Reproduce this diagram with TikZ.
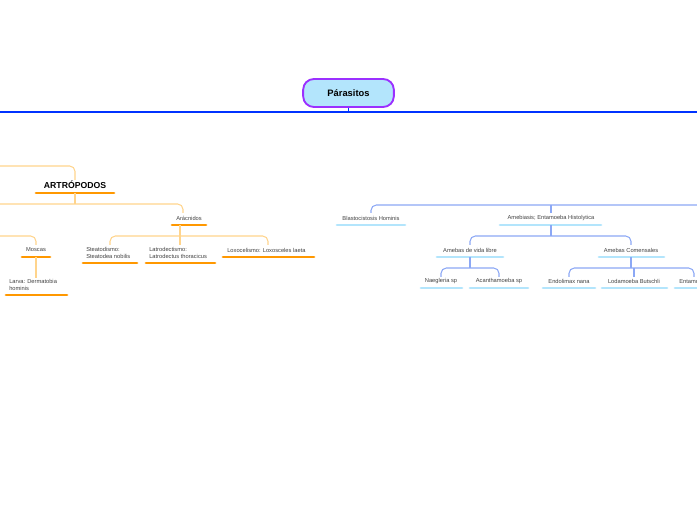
\documentclass[tikz,border=0pt]{standalone}
\usepackage{fontspec}
\setmainfont{Liberation Sans}
\begin{document}
\begin{tikzpicture}[x=0.75pt,y=-0.75pt,
  lbl/.style={font=\fontsize{4.3}{5.2}\selectfont,text=black!75,inner sep=0,align=left},
  oc/.style={draw=ocol,line width=0.8pt,rounded corners=4pt},
  bc/.style={draw=bcol,line width=0.8pt,rounded corners=4pt},
  ou/.style={draw=ucol,line width=2.2pt,line cap=round},
  bu/.style={draw=rootfill,line width=2.2pt,line cap=round}]
\definecolor{rootfill}{HTML}{B3E5FC}
\definecolor{rootdraw}{HTML}{9B30FF}
\definecolor{ocol}{HTML}{FFD48C}
\definecolor{ucol}{HTML}{FF9800}
\definecolor{bcol}{HTML}{8CA8F5}
\useasboundingbox (0,0) rectangle (697,520);
\clip (0,0) rectangle (697,520);
\node[draw=rootdraw,fill=rootfill,line width=1.4pt,rounded corners=8pt,minimum width=68pt,minimum height=21pt,font=\fontsize{7}{8}\selectfont\bfseries] (root) at (348.5,93) {Párasitos};
\coordinate (bl) at (0,112); \coordinate (br) at (697,112);
\draw[blue!80!cyan,line width=0.8pt] (bl) -- (br);
\draw[blue!80!cyan,line width=0.8pt] (root.south) -- (348.5,112);
% Artropodos
\node[font=\fontsize{6.5}{7}\selectfont\bfseries] (art) at (75,185) {ARTRÓPODOS};
\draw[oc] (0,166) -- (75,166) -- (75,180);
\draw[ou] (36,193) -- (114,193);
\draw[oc] (75,193) -- (75,204);
\draw[oc] (0,204) -- (183,204) -- (183,213);
\node[lbl] (arac) at (189,218) {Arácnidos};
\draw[ou] (172,225) -- (206,225);
\draw[oc] (180,225) -- (180,236);
\draw[oc] (110,245) -- (110,236) -- (268,236) -- (268,245);
\draw[oc] (180,236) -- (180,245);
\node[lbl,anchor=west] (stea) at (86,252.5) {Steatodismo:\\Steatodea nobilis};
\draw[ou] (83,263) -- (137,263);
\node[lbl,anchor=west] (latr) at (149,252.5) {Latrodectismo:\\Latrodectus thoracicus};
\draw[ou] (146,263) -- (215,263);
\node[lbl,anchor=west] (lox) at (227,250) {Loxocelismo: Loxosceles laeta};
\draw[ou] (223,257) -- (314,257);
\draw[oc] (0,236) -- (36,236) -- (36,245);
\node[lbl] (mos) at (36,250) {Moscas};
\draw[ou] (22,257) -- (50,257);
\draw[oc] (36,257) -- (36,278);
\node[lbl,anchor=west] (larva) at (9,284.5) {Larva: Dermatobia\\hominis};
\draw[ou] (6,295) -- (67,295);
% Blue branch
\draw[bc] (371,213) -- (371,205) -- (697,205);
\draw[bc] (551,205) -- (551,213);
\node[lbl] (blas) at (371,218) {Blastocistosis Hominis};
\draw[bu] (337,225) -- (405,225);
\node[lbl] (ameb) at (551,218) {Amebiasis; Entamoeba Histolytica};
\draw[bu] (500,225) -- (601,225);
\draw[bc] (551,225) -- (551,236);
\draw[bc] (470,245) -- (470,236) -- (631,236) -- (631,245);
\node[lbl] (avl) at (470,250) {Amebas de vida libre};
\draw[bu] (437,257) -- (503,257);
\node[lbl] (acom) at (631,250) {Amebas Comensales};
\draw[bu] (599,257) -- (664,257);
\draw[bc] (470,257) -- (470,268);
\draw[bc] (441,277) -- (441,268) -- (499,268) -- (499,277);
\node[lbl] (nae) at (441,281) {Naegleria sp};
\draw[bu] (421,288) -- (462,288);
\node[lbl] (aca) at (499,281) {Acanthamoeba sp};
\draw[bu] (470,288) -- (528,288);
\draw[bc] (631,257) -- (631,268);
\draw[bc] (569,277) -- (569,268) -- (694,268) -- (694,277);
\draw[bc] (634,268) -- (634,277);
\node[lbl] (endo) at (569,281) {Endolimax nana};
\draw[bu] (543,288) -- (595,288);
\node[lbl] (loda) at (634,281) {Lodamoeba Butschli};
\draw[bu] (602,288) -- (667,288);
\node[lbl,anchor=west] (enta) at (679,281) {Entamoeba coli};
\draw[bu] (675,288) -- (710,288);
\end{tikzpicture}
\end{document}
